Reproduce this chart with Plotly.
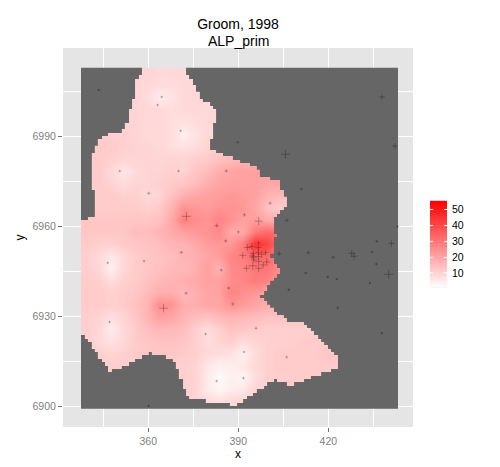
import numpy as np
import plotly.graph_objects as go

TITLE = "Groom, 1998"
SUBTITLE = "ALP_prim"
X_TICKS = [360, 390, 420]
Y_TICKS = [6900, 6930, 6960, 6990]
LEGEND_TICKS = [10, 20, 30, 40, 50]

# Interpolated ALP_prim surface, north to south, one row every 4.05 km of y
FIELD_X0, FIELD_DX = 339.6, 4.0
FIELD_Y0, FIELD_DY = 6901.425, 4.05
FIELD = [
    [10, 10, 10, 10, 10, 10, 9, 9, 9, 9, 9, 9, 9, 9, 9, 9, 9, 9, 9, 9, 9, 9],
    [10, 10, 10, 10, 10, 9, 8, 8, 9, 9, 9, 9, 9, 9, 9, 9, 9, 9, 9, 9, 9, 9],
    [10, 10, 10, 10, 10, 8, 5, 7, 9, 9, 9, 9, 9, 9, 9, 9, 9, 9, 9, 9, 9, 9],
    [10, 10, 10, 10, 10, 9, 9, 8, 9, 9, 9, 9, 9, 9, 9, 9, 9, 9, 9, 9, 9, 9],
    [11, 11, 11, 10, 10, 9, 9, 8, 7, 8, 9, 10, 10, 10, 10, 10, 10, 10, 10, 10, 10, 10],
    [11, 11, 11, 11, 10, 9, 9, 8, 4, 7, 9, 10, 10, 10, 10, 10, 10, 10, 10, 10, 10, 10],
    [12, 12, 12, 11, 10, 10, 9, 8, 7, 8, 10, 11, 12, 12, 12, 12, 12, 12, 12, 12, 12, 12],
    [12, 12, 11, 10, 10, 10, 10, 10, 10, 11, 12, 14, 15, 16, 16, 16, 16, 16, 16, 16, 16, 16],
    [12, 12, 9, 6, 9, 10, 10, 11, 10, 13, 15, 18, 20, 21, 21, 21, 21, 21, 21, 21, 21, 21],
    [12, 12, 10, 8, 10, 10, 11, 12, 13, 15, 18, 20, 21, 21, 21, 20, 20, 20, 20, 20, 20, 20],
    [12, 12, 12, 11, 11, 9, 10, 14, 18, 20, 21, 22, 23, 22, 21, 17, 15, 15, 15, 15, 15, 15],
    [12, 12, 12, 12, 12, 11, 12, 17, 24, 23, 22, 24, 24, 23, 20, 14, 12, 12, 12, 12, 12, 12],
    [13, 13, 13, 13, 13, 13, 14, 19, 28, 25, 24, 27, 24, 21, 22, 19, 18, 18, 18, 18, 18, 18],
    [13, 13, 13, 13, 15, 15, 17, 19, 21, 23, 24, 26, 19, 19, 29, 33, 30, 30, 30, 30, 30, 30],
    [12, 11, 11, 12, 13, 14, 15, 17, 17, 19, 22, 23, 23, 29, 45, 41, 32, 32, 32, 32, 32, 32],
    [11, 9, 6, 9, 12, 13, 14, 15, 17, 18, 20, 22, 27, 29, 33, 33, 28, 28, 28, 28, 28, 28],
    [11, 9, 4, 9, 12, 13, 14, 16, 16, 18, 21, 17, 26, 27, 30, 30, 25, 25, 25, 25, 25, 25],
    [12, 11, 8, 11, 12, 14, 16, 17, 18, 19, 21, 21, 25, 27, 29, 27, 24, 24, 24, 24, 24, 24],
    [12, 12, 11, 12, 13, 15, 18, 18, 16, 18, 20, 21, 27, 25, 23, 20, 20, 20, 20, 20, 20, 20],
    [12, 12, 11, 12, 14, 17, 25, 24, 18, 18, 20, 20, 24, 22, 20, 18, 18, 18, 18, 18, 18, 18],
    [11, 10, 8, 10, 13, 17, 21, 20, 17, 15, 14, 16, 17, 16, 15, 14, 14, 14, 14, 14, 14, 14],
    [11, 9, 5, 9, 12, 15, 16, 16, 15, 11, 8, 11, 14, 13, 12, 11, 11, 11, 11, 11, 11, 11],
    [11, 9, 7, 9, 12, 13, 14, 14, 13, 11, 8, 10, 11, 8, 10, 11, 11, 11, 12, 12, 12, 12],
    [11, 11, 10, 11, 12, 13, 13, 13, 12, 11, 9, 8, 7, 4, 8, 11, 12, 12, 12, 12, 13, 13],
    [11, 11, 11, 11, 11, 11, 11, 11, 11, 10, 6, 4, 5, 6, 9, 11, 12, 12, 12, 12, 12, 12],
    [11, 11, 11, 11, 11, 11, 11, 11, 11, 10, 5, 2, 4, 3, 8, 11, 11, 12, 12, 12, 12, 12],
    [11, 11, 11, 11, 11, 11, 11, 11, 11, 10, 5, 3, 5, 6, 10, 11, 12, 12, 12, 12, 12, 12],
    [11, 11, 11, 11, 11, 11, 11, 11, 11, 10, 9, 8, 9, 10, 11, 11, 12, 12, 12, 12, 12, 12],
]

# Extent of the prediction raster
RASTER_X = [337.6, 443.2]
RASTER_Y = [6899.2, 7012.8]

# Stepped edge of the study region: each pair moves across to x, then along to y
EDGE_START = (357.9, 7012.8)
EDGE_X = [
    372.6, 373.6, 374.9, 375.9, 377.2, 378.2, 380.6, 381.6, 382.6, 381.6, 380.6, 382.6, 384.9, 388.2,
    390.6, 393.9, 396.2, 397.2, 400.6, 403.9, 405.2, 406.2, 405.2, 403.9, 402.9, 401.9, 402.9, 401.9,
    400.6, 401.9, 402.9, 403.9, 402.9, 401.9, 400.6, 399.6, 398.6, 397.2, 398.6, 399.6, 400.6, 401.9,
    402.9, 405.2, 406.2, 411.9, 412.9, 414.2, 415.2, 416.6, 417.6, 418.6, 419.9, 420.9, 421.9, 423.2,
    420.9, 417.6, 414.2, 411.9, 408.6, 406.2, 402.9, 401.9, 399.6, 398.6, 396.2, 394.9, 392.9, 391.6,
    389.6, 387.2, 379.2, 373.6, 372.6, 371.6, 370.2, 369.2, 368.2, 365.9, 361.2, 360.2, 357.9, 355.6,
    353.6, 351.2, 347.9, 346.6, 345.6, 344.6, 343.2, 342.2, 341.2, 339.9, 338.9, 337.6, 339.9, 342.2,
    341.2, 342.2, 343.2, 344.6, 346.6, 351.2, 352.2, 353.6, 354.6, 355.6, 356.9, 357.9,
]
EDGE_Y = [
    7010.4, 7009.1, 7007.1, 7004.8, 7002.4, 7001.4, 7000.1, 6999.1, 6994.4, 6989.1, 6985.4, 6984.4, 6983.4, 6982.1,
    6981.1, 6980.1, 6978.8, 6976.4, 6975.4, 6972.1, 6969.8, 6966.4, 6965.4, 6964.1, 6963.1, 6957.4, 6956.4, 6950.8,
    6949.4, 6947.4, 6946.1, 6944.1, 6942.8, 6941.8, 6940.4, 6938.4, 6937.1, 6936.1, 6935.1, 6933.8, 6932.8, 6931.4,
    6930.4, 6929.4, 6928.1, 6927.1, 6926.1, 6925.1, 6923.8, 6922.4, 6921.4, 6920.4, 6919.1, 6918.1, 6917.1, 6912.4,
    6911.4, 6910.1, 6909.1, 6908.1, 6906.8, 6908.1, 6909.1, 6908.1, 6906.8, 6905.8, 6904.4, 6903.4, 6902.4, 6901.1,
    6900.1, 6901.1, 6902.4, 6903.4, 6905.8, 6909.1, 6912.4, 6914.8, 6915.8, 6917.1, 6918.1, 6917.1, 6915.8, 6914.8,
    6913.4, 6912.4, 6911.4, 6913.4, 6914.8, 6915.8, 6918.1, 6919.1, 6921.4, 6922.4, 6923.8, 6962.1, 6963.1, 6972.1,
    6984.4, 6986.8, 6989.1, 6990.1, 6991.1, 6992.4, 6994.4, 6999.1, 7002.4, 7009.1, 7010.4, 7012.8,
]

# Sampling sites and their measured ALP_prim
POINT_X = [
    343.5, 364.5, 363.1, 370.8, 389.8, 350.5, 370.1, 386.0, 360.2, 372.7, 382.8, 390.0, 437.9, 442.2, 405.7,
    411.0, 400.6, 392.0, 396.8, 406.2, 443.1, 346.5, 358.6, 371.0, 385.8, 384.3, 386.8, 372.6, 388.2, 365.1,
    347.1, 379.1, 382.8, 360.1, 436.1, 441.0, 403.6, 413.3, 427.8, 428.6, 421.6, 434.5, 436.0, 440.1, 412.5,
    419.8, 422.8, 433.8, 406.8, 423.1, 395.9, 437.8, 391.9, 406.1, 391.7, 393.0, 394.5, 396.7, 391.5, 395.0,
    396.7, 397.8, 394.6, 395.1, 396.7, 399.1, 395.2, 396.8, 399.5, 398.3, 392.7, 394.8, 396.8, 396.8,
]
POINT_Y = [
    7005.4, 7003.1, 7000.4, 6991.8, 6988.0, 6978.4, 6978.4, 6978.4, 6971.0, 6963.3, 6960.2, 6958.1, 7003.1, 6986.7, 6984.0,
    6972.4, 6967.7, 6963.8, 6961.7, 6962.0, 6959.9, 6947.8, 6948.4, 6951.3, 6955.1, 6945.4, 6939.4, 6937.7, 6934.1, 6932.7,
    6928.1, 6924.1, 6908.4, 6900.1, 6955.0, 6954.3, 6950.8, 6951.2, 6951.0, 6950.0, 6949.7, 6951.4, 6947.4, 6944.0, 6944.4,
    6943.1, 6942.4, 6941.1, 6938.8, 6932.8, 6926.0, 6924.4, 6918.1, 6916.4, 6909.4, 6952.9, 6953.2, 6952.9, 6950.3, 6951.0,
    6951.3, 6950.7, 6950.1, 6949.7, 6949.9, 6951.3, 6948.8, 6948.3, 6948.1, 6947.1, 6946.0, 6946.8, 6946.0, 6954.5,
]
POINT_VALUE = [
    3, 3, 3, 3, 5, 4, 4, 8, 8, 45, 14, 6, 22, 22, 45,
    4, 8, 10, 40, 8, 4, 3, 3, 8, 8, 7, 8, 7, 8, 42,
    3, 3, 3, 4, 4, 25, 15, 12, 30, 30, 8, 3, 6, 45, 3,
    3, 3, 3, 3, 3, 5, 3, 3, 3, 6, 30, 30, 25, 30, 30,
    22, 35, 25, 35, 30, 22, 25, 30, 35, 25, 30, 40, 35, 4,
]

VALUE_MIN, VALUE_MAX = 0.8, 55.5
WHITE_RED = [[0, "#ffffff"], [1, "#ff0000"]]
NA_GREY = "#666666"

# Outer rectangle runs against the region edge, so the edge cuts a hole in the fill
edge_x, edge_y = [EDGE_START[0]], [EDGE_START[1]]
for ex, ey in zip(EDGE_X, EDGE_Y):
    edge_x += [ex, ex]
    edge_y += [edge_y[-1], ey]
mask_x = [RASTER_X[0], RASTER_X[0], RASTER_X[1], RASTER_X[1], RASTER_X[0], None] + edge_x
mask_y = [RASTER_Y[1], RASTER_Y[0], RASTER_Y[0], RASTER_Y[1], RASTER_Y[1], None] + edge_y

fig = go.Figure()

fig.add_trace(go.Heatmap(
    z=FIELD[::-1], x0=FIELD_X0, dx=FIELD_DX, y0=FIELD_Y0, dy=FIELD_DY,
    zmin=VALUE_MIN, zmax=VALUE_MAX, colorscale=WHITE_RED,
    zsmooth="best", showscale=False, hoverinfo="skip",
))

fig.add_trace(go.Scatter(
    x=mask_x, y=mask_y, mode="lines", fill="toself", fillcolor=NA_GREY,
    line=dict(width=0, color=NA_GREY), showlegend=False, hoverinfo="skip",
))

fig.add_trace(go.Scatter(
    x=POINT_X, y=POINT_Y, mode="markers", showlegend=False,
    marker=dict(
        symbol="cross-thin",
        size=[1.5 + 0.11 * v for v in POINT_VALUE],
        line=dict(width=1, color="rgba(0,0,0,0.36)"),
    ),
))

# Legend bar drawn on its own small axes so the ticks can sit on both edges
legend_levels = np.linspace(VALUE_MIN, VALUE_MAX, 110)
fig.add_trace(go.Heatmap(
    z=[[v, v] for v in legend_levels], x=[0, 1], y=legend_levels,
    zmin=VALUE_MIN, zmax=VALUE_MAX, colorscale=WHITE_RED,
    showscale=False, hoverinfo="skip", xaxis="x2", yaxis="y2",
))

W, H = 500, 467
axis_font = dict(family="Liberation Sans, Arial, sans-serif", size=10.5, color="#7f7f7f")
title_font = dict(family="Liberation Sans, Arial, sans-serif", size=14, color="#000000")
label_font = dict(family="Liberation Sans, Arial, sans-serif", size=12, color="#000000")

fig.update_layout(
    width=W, height=H, autosize=False,
    margin=dict(l=0, r=0, t=0, b=0),
    paper_bgcolor="#ffffff", plot_bgcolor="#e5e5e5",
    showlegend=False,
    title=dict(text=TITLE, font=title_font, x=238 / W, xanchor="center", y=1 - 24.5 / H, yanchor="middle"),
    xaxis=dict(
        domain=[63 / W, 413 / W], range=[331.6, 448.2],
        tickvals=X_TICKS, ticks="outside", ticklen=4, tickwidth=1, tickcolor="#707070",
        tickfont=axis_font, showgrid=True, gridcolor="#ffffff", gridwidth=1.1, zeroline=False,
        minor=dict(tick0=345, dtick=30, showgrid=True, gridcolor="#ffffff", gridwidth=0.5, ticks=""),
        title=dict(text="x", font=label_font, standoff=4),
    ),
    yaxis=dict(
        domain=[1 - 427 / H, 1 - 48 / H], range=[6893.1, 7019.4],
        tickvals=Y_TICKS, ticks="outside", ticklen=4, tickwidth=1, tickcolor="#707070",
        tickfont=axis_font, showgrid=True, gridcolor="#ffffff", gridwidth=1.1, zeroline=False,
        minor=dict(tick0=6915, dtick=30, showgrid=True, gridcolor="#ffffff", gridwidth=0.5, ticks=""),
        title=dict(text="y", font=label_font, standoff=5),
    ),
    xaxis2=dict(domain=[430 / W, 447 / W], range=[0, 1], visible=False, anchor="y2", fixedrange=True),
    yaxis2=dict(
        domain=[1 - 287.5 / H, 1 - 200.7 / H], range=[VALUE_MIN, VALUE_MAX], anchor="x2", side="right",
        tickvals=LEGEND_TICKS, ticks="inside", ticklen=3, tickwidth=1, tickcolor="#ffffff", mirror="ticks",
        tickfont=dict(family="Liberation Sans, Arial, sans-serif", size=10.5, color="#000000"),
        ticklabelstandoff=4, showgrid=False, zeroline=False, showline=False,
    ),
    annotations=[dict(
        text=SUBTITLE, xref="paper", yref="paper", x=238 / W, y=1 - 41 / H,
        xanchor="center", yanchor="middle", showarrow=False, font=title_font,
    )],
)

fig.write_html("out.html")
